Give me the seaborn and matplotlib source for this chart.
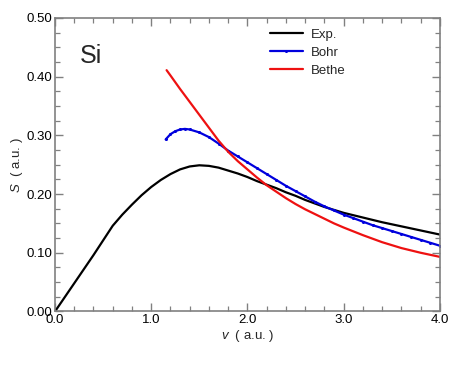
import numpy as np
import pandas as pd
import matplotlib
matplotlib.use("Agg")
import matplotlib.pyplot as plt
import seaborn as sns
from matplotlib.ticker import MultipleLocator, FormatStrFormatter

# DATA
exp_v = [0.0, 0.2, 0.4, 0.6, 0.7, 0.8, 0.9, 1.0, 1.1, 1.2, 1.3, 1.4, 1.5, 1.6, 1.7,
         1.8, 1.9, 2.0, 2.1, 2.2, 2.3, 2.4, 2.5, 2.6, 2.7, 2.8, 2.9, 3.0, 3.2, 3.4, 3.6, 3.8, 4.0]
exp_s = [0.000, 0.048, 0.096, 0.146, 0.165, 0.182, 0.198, 0.212, 0.224, 0.234, 0.242, 0.247, 0.249, 0.248, 0.245,
         0.240, 0.235, 0.229, 0.222, 0.216, 0.210, 0.203, 0.197, 0.190, 0.184, 0.178, 0.173, 0.168,
         0.160, 0.152, 0.145, 0.138, 0.131]

bohr_v = [1.15, 1.2, 1.25, 1.3, 1.35, 1.4, 1.5, 1.6, 1.7, 1.8, 1.9, 2.0, 2.1, 2.2, 2.3, 2.4, 2.5,
          2.6, 2.7, 2.8, 2.9, 3.0, 3.1, 3.2, 3.3, 3.4, 3.5, 3.6, 3.7, 3.8, 3.9, 4.0]
bohr_s = [0.293, 0.302, 0.307, 0.310, 0.311, 0.310, 0.305, 0.297, 0.286, 0.274, 0.264, 0.254, 0.244, 0.234,
          0.224, 0.214, 0.205, 0.196, 0.187, 0.179, 0.172, 0.165, 0.159, 0.153, 0.147, 0.142, 0.137,
          0.132, 0.127, 0.122, 0.117, 0.112]

bethe_v = [1.16, 1.2, 1.3, 1.4, 1.5, 1.6, 1.7, 1.8, 1.9, 2.0, 2.1, 2.2, 2.3, 2.4, 2.5, 2.6, 2.7,
           2.8, 2.9, 3.0, 3.2, 3.4, 3.6, 3.8, 4.0]
bethe_s = [0.411, 0.402, 0.379, 0.357, 0.335, 0.313, 0.291, 0.272, 0.256, 0.242, 0.228, 0.215, 0.204,
           0.193, 0.183, 0.174, 0.166, 0.158, 0.150, 0.143, 0.130, 0.118, 0.108, 0.100, 0.093]

exp_df = pd.DataFrame({"v": exp_v, "S": exp_s})
bohr_df = pd.DataFrame({"v": bohr_v, "S": bohr_s})
bethe_df = pd.DataFrame({"v": bethe_v, "S": bethe_s})

# CONFIG
sns.set_style("ticks")
plt.rcParams["font.family"] = ["Liberation Sans", "DejaVu Sans"]
plt.rcParams["mathtext.fontset"] = "custom"
plt.rcParams["mathtext.it"] = "Liberation Sans:italic"
plt.rcParams["mathtext.rm"] = "Liberation Sans"

fig = plt.figure(figsize=(4.74, 3.66), dpi=100)
ax = fig.add_axes([0.116, 0.149, 0.812, 0.802])

sns.lineplot(x="v", y="S", data=exp_df, ax=ax, color="black", linewidth=1.6, label="Exp.")
sns.lineplot(x="v", y="S", data=bohr_df, ax=ax, color="#0000dd", linewidth=1.6,
             marker="o", markersize=2.2, markeredgewidth=0, label="Bohr")
sns.lineplot(x="v", y="S", data=bethe_df, ax=ax, color="#ee1111", linewidth=1.6, label="Bethe")

ax.set_xlim(0, 4.0)
ax.set_ylim(0, 0.50)
ax.xaxis.set_major_locator(MultipleLocator(1.0))
ax.xaxis.set_minor_locator(MultipleLocator(0.2))
ax.yaxis.set_major_locator(MultipleLocator(0.10))
ax.yaxis.set_minor_locator(MultipleLocator(0.025))
ax.xaxis.set_major_formatter(FormatStrFormatter("%.1f"))
ax.yaxis.set_major_formatter(FormatStrFormatter("%.2f"))

gray = "#808080"
for sp in ax.spines.values():
    sp.set_visible(True)
    sp.set_color(gray)
    sp.set_linewidth(1.2)
ax.tick_params(which="both", direction="in", top=True, right=True, color=gray,
               labelsize=9.5, labelcolor="black", pad=2)
ax.tick_params(which="major", length=6, width=1.0)
ax.tick_params(which="minor", length=3.5, width=0.9)

ax.set_xlabel("$v$  ( a.u. )", fontsize=9.5, labelpad=1)
ax.set_ylabel("$S$  ( a.u. )", fontsize=9.5, labelpad=1)

ax.text(0.065, 0.87, "Si", transform=ax.transAxes, fontsize=18, ha="left", va="center")

ax.legend(loc="upper left", bbox_to_anchor=(0.53, 1.0), frameon=False, fontsize=9.5,
          handlelength=2.5, handletextpad=0.6, labelspacing=0.45, borderaxespad=0.4)

plt.savefig("out.png", dpi=100)
